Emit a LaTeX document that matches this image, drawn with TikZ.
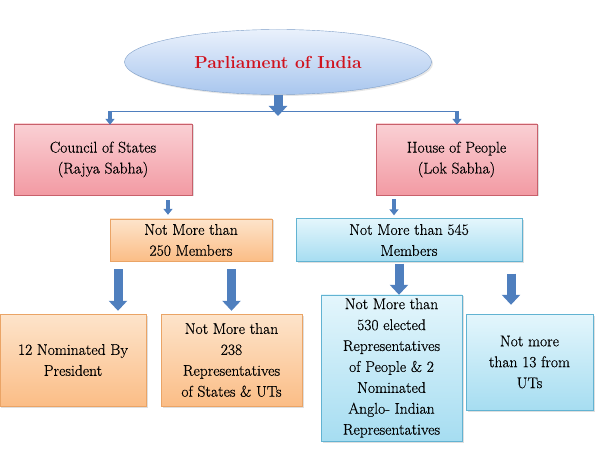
\documentclass[tikz,border=0pt]{standalone}
\usepackage{fontspec}
\setmainfont{Latin Modern Roman}[UprightFeatures={FakeBold=0.45}]
\usepackage{tikz}
\usetikzlibrary{positioning,arrows.meta,shapes.geometric,shadows}
\definecolor{ovaltop}{HTML}{E9F1FC}
\definecolor{ovalbot}{HTML}{A9C6EE}
\definecolor{ovaledge}{HTML}{7F9FC8}
\definecolor{titlered}{HTML}{D0121E}
\definecolor{pinktop}{HTML}{FAD0D4}
\definecolor{pinkbot}{HTML}{F29AA3}
\definecolor{pinkedge}{HTML}{C8606B}
\definecolor{peachtop}{HTML}{FDE4CB}
\definecolor{peachbot}{HTML}{FBBD86}
\definecolor{peachedge}{HTML}{EAA466}
\definecolor{skytop}{HTML}{E4F6FC}
\definecolor{skybot}{HTML}{A6DDF1}
\definecolor{skyedge}{HTML}{62B3D2}
\definecolor{arrowblue}{HTML}{4F7FBE}
\tikzset{
  house/.style={draw=pinkedge,top color=pinktop,bottom color=pinkbot,align=center,
                font=\rmfamily\fontsize{15.6}{21}\selectfont,inner sep=2pt,
                drop shadow={opacity=0.25,shadow xshift=1.5bp,shadow yshift=-1.5bp}},
  peach/.style={draw=peachedge,top color=peachtop,bottom color=peachbot,align=center,
                font=\rmfamily\fontsize{15.6}{21}\selectfont,inner sep=2pt,
                drop shadow={opacity=0.25,shadow xshift=1.5bp,shadow yshift=-1.5bp}},
  sky/.style={draw=skyedge,top color=skytop,bottom color=skybot,align=center,
              font=\rmfamily\fontsize{15.6}{21}\selectfont,inner sep=2pt,
              drop shadow={opacity=0.25,shadow xshift=1.5bp,shadow yshift=-1.5bp}},
  oval/.style={draw=ovaledge,ellipse,top color=ovaltop,bottom color=ovalbot,
               font=\rmfamily\fontsize{17.5}{22}\selectfont\bfseries,text=titlered,
               drop shadow={opacity=0.2,shadow xshift=1.5bp,shadow yshift=-1.5bp}},
  bus/.style={draw=arrowblue,line width=0.9bp},
  bigarr/.style={-{Triangle[width=18bp,length=10bp]},draw=arrowblue,line width=9bp},
  smallarr/.style={-{Triangle[width=9bp,length=6bp]},draw=arrowblue,line width=3.5bp}
}
\begin{document}
\begin{tikzpicture}[x=1bp,y=-1bp]
  \useasboundingbox (0,0) rectangle (602,451);

  \coordinate (busL) at (110,111);
  \coordinate (busR) at (457,111);
  \draw[bus] (busL) -- (busR);

  \node[oval,minimum width=307bp,minimum height=65bp] (parl) at (278,62) {Parliament of India};

  \node[house,minimum width=178bp,minimum height=71bp] (rajya) at (103,159.5) {Council of States\\(Rajya Sabha)};
  \node[house,minimum width=161bp,minimum height=71bp] (lok) at (456.5,159.5) {House of People\\(Lok Sabha)};

  \node[peach,minimum width=162bp,minimum height=42bp] (m250) at (191,240) {Not More than\\250 Members};
  \node[sky,minimum width=226bp,minimum height=43bp] (m545) at (409,240) {Not More than 545\\Members};

  \node[peach,minimum width=146bp,minimum height=92bp] (nom12) at (73,360) {12 Nominated By\\President};
  \node[peach,minimum width=141bp,minimum height=92bp] (r238) at (231.5,360) {Not More than\\238\\Representatives\\of States \& UTs};
  \node[sky,minimum width=141bp,minimum height=146bp] (r530) at (391.5,368) {Not More than\\530 elected\\Representatives\\of People \& 2\\Nominated\\Anglo- Indian\\Representatives};
  \node[sky,minimum width=127bp,minimum height=96bp] (ut13) at (529.5,362) {Not more\\than 13 from\\UTs};

  \coordinate (c250) at ([xshift=-23bp]m250.north);
  \coordinate (c545) at ([xshift=-15bp]m545.north);
  \coordinate (cnom) at ([xshift=45bp]nom12.north);
  \coordinate (c530) at ([xshift=7.5bp]r530.north);
  \coordinate (cut) at ([xshift=-18.5bp]ut13.north);

  \draw[bigarr] (parl.south) -- ([yshift=-5bp]parl.south |- busL);
  \draw[smallarr] (busL) -- ([yshift=-1bp]busL |- rajya.north);
  \draw[smallarr] (busR) -- ([yshift=-1bp]busR |- lok.north);
  \draw[smallarr,shorten <=5bp,shorten >=4bp] (c250 |- rajya.south) -- (c250);
  \draw[smallarr,shorten <=4bp,shorten >=3bp] (c545 |- lok.south) -- (c545);
  \draw[bigarr,shorten <=8bp,shorten >=3bp] (cnom |- m250.south) -- (cnom);
  \draw[bigarr,shorten <=8bp,shorten >=3bp] (r238.north |- m250.south) -- (r238.north);
  \draw[bigarr,shorten <=2bp] (c530 |- m545.south) -- (c530);
  \draw[bigarr,shorten <=12bp,shorten >=9bp] (cut |- m545.south) -- (cut);
\end{tikzpicture}
\end{document}
